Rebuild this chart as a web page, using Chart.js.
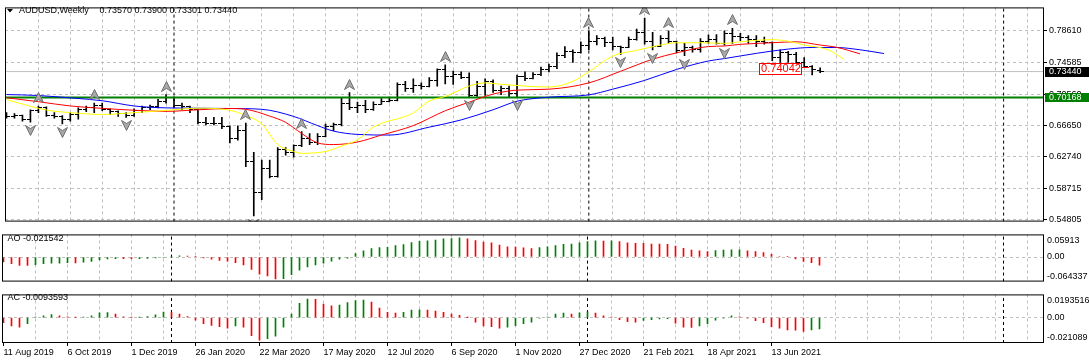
<!DOCTYPE html>
<html>
<head>
<meta charset="utf-8">
<script src="https://cdn.jsdelivr.net/npm/chart.js@4.4.1/dist/chart.umd.min.js"></script>
<style>
  body { margin: 0; background: #fff; width: 1089px; height: 364px; overflow: hidden; position: relative; }
  canvas { position: absolute; left: 0; }
</style>
</head>
<body>
<canvas id="main" width="1089" height="229" style="top:0"></canvas>
<canvas id="ao" width="1089" height="58" style="top:229px"></canvas>
<canvas id="ac" width="1089" height="75" style="top:289px"></canvas>
<script>
// weekly AUDUSD bars, index 0 = 11 Aug 2019
const opens = [0.6802, 0.6778, 0.6790, 0.6743, 0.6850, 0.6886, 0.6790, 0.6778, 0.6743, 0.6802,
  0.6862, 0.6886, 0.6922, 0.6862, 0.6838, 0.6814, 0.6790, 0.6850, 0.6886, 0.6898,
  0.6970, 0.7018, 0.6910, 0.6898, 0.6862, 0.6707, 0.6695, 0.6695, 0.6647, 0.6503,
  0.6599, 0.6204, 0.5822, 0.6121, 0.6025, 0.6360, 0.6324, 0.6408, 0.6503, 0.6444,
  0.6527, 0.6647, 0.6671, 0.6946, 0.6886, 0.6922, 0.6862, 0.6934, 0.6970, 0.6982,
  0.7185, 0.7125, 0.7173, 0.7161, 0.7233, 0.7365, 0.7281, 0.7305, 0.7269, 0.7042,
  0.7161, 0.7221, 0.7101, 0.7125, 0.7066, 0.7281, 0.7257, 0.7305, 0.7365, 0.7412,
  0.7544, 0.7592, 0.7580, 0.7676, 0.7723, 0.7759, 0.7712, 0.7664, 0.7652, 0.7747,
  0.7843, 0.7723, 0.7664, 0.7759, 0.7723, 0.7616, 0.7652, 0.7628, 0.7723, 0.7747,
  0.7700, 0.7819, 0.7783, 0.7771, 0.7747, 0.7723, 0.7712, 0.7520, 0.7580, 0.7556,
  0.7460, 0.7412, 0.73570];
const highs = [0.6826, 0.6814, 0.6795, 0.6862, 0.6910, 0.6898, 0.6826, 0.6790, 0.6826, 0.6886,
  0.6910, 0.6946, 0.6946, 0.6874, 0.6850, 0.6826, 0.6874, 0.6910, 0.6922, 0.6994,
  0.7054, 0.7025, 0.6946, 0.6910, 0.6868, 0.6767, 0.6767, 0.6767, 0.6659, 0.6659,
  0.6695, 0.6324, 0.6228, 0.6228, 0.6384, 0.6384, 0.6420, 0.6587, 0.6563, 0.6563,
  0.6683, 0.6695, 0.7018, 0.7078, 0.6958, 0.6982, 0.6962, 0.7002, 0.7021, 0.7201,
  0.7221, 0.7253, 0.7201, 0.7269, 0.7380, 0.7428, 0.7349, 0.7341, 0.7329, 0.7221,
  0.7253, 0.7241, 0.7161, 0.7161, 0.7301, 0.7341, 0.7332, 0.7400, 0.7440, 0.7580,
  0.7660, 0.7619, 0.7720, 0.7859, 0.7799, 0.7780, 0.7780, 0.7667, 0.7780, 0.7879,
  0.8019, 0.7840, 0.7799, 0.7859, 0.7728, 0.7700, 0.7667, 0.7759, 0.7807, 0.7811,
  0.7859, 0.7891, 0.7828, 0.7799, 0.7799, 0.7780, 0.7720, 0.7619, 0.7600, 0.7588,
  0.7520, 0.7421, 0.73900];
const lows = [0.6755, 0.6755, 0.6719, 0.6707, 0.6826, 0.6778, 0.6755, 0.6683, 0.6719, 0.6743,
  0.6838, 0.6826, 0.6850, 0.6802, 0.6778, 0.6767, 0.6778, 0.6826, 0.6862, 0.6886,
  0.6946, 0.6886, 0.6862, 0.6826, 0.6683, 0.6671, 0.6671, 0.6623, 0.6444, 0.6479,
  0.6145, 0.5522, 0.5726, 0.6001, 0.6010, 0.6288, 0.6264, 0.6396, 0.6420, 0.6420,
  0.6520, 0.6599, 0.6659, 0.6862, 0.6826, 0.6826, 0.6854, 0.6930, 0.6962, 0.6975,
  0.7093, 0.7081, 0.7122, 0.7149, 0.7161, 0.7189, 0.7182, 0.7253, 0.7021, 0.7030,
  0.7042, 0.7081, 0.7054, 0.7021, 0.7021, 0.7229, 0.7250, 0.7293, 0.7341, 0.7380,
  0.7520, 0.7460, 0.7575, 0.7619, 0.7679, 0.7660, 0.7619, 0.7560, 0.7645, 0.7739,
  0.7691, 0.7619, 0.7660, 0.7700, 0.7580, 0.7544, 0.7588, 0.7588, 0.7700, 0.7690,
  0.7676, 0.7700, 0.7732, 0.7700, 0.7660, 0.7691, 0.7481, 0.7460, 0.7460, 0.7440,
  0.7400, 0.7301, 0.73301];
const closes = [0.6778, 0.6790, 0.6743, 0.6850, 0.6886, 0.6790, 0.6778, 0.6743, 0.6802, 0.6862,
  0.6886, 0.6922, 0.6862, 0.6838, 0.6814, 0.6790, 0.6850, 0.6886, 0.6898, 0.6970,
  0.7018, 0.6910, 0.6898, 0.6862, 0.6707, 0.6695, 0.6695, 0.6647, 0.6503, 0.6599,
  0.6204, 0.5822, 0.6121, 0.6025, 0.6360, 0.6324, 0.6408, 0.6503, 0.6444, 0.6527,
  0.6647, 0.6671, 0.6946, 0.6886, 0.6922, 0.6862, 0.6934, 0.6970, 0.6982, 0.7185,
  0.7125, 0.7173, 0.7161, 0.7233, 0.7365, 0.7281, 0.7305, 0.7269, 0.7042, 0.7161,
  0.7221, 0.7101, 0.7125, 0.7066, 0.7281, 0.7257, 0.7305, 0.7365, 0.7412, 0.7544,
  0.7592, 0.7580, 0.7676, 0.7723, 0.7759, 0.7712, 0.7664, 0.7652, 0.7747, 0.7843,
  0.7723, 0.7664, 0.7759, 0.7723, 0.7616, 0.7652, 0.7628, 0.7723, 0.7747, 0.7700,
  0.7819, 0.7783, 0.7771, 0.7747, 0.7723, 0.7712, 0.7520, 0.7580, 0.7556, 0.7460,
  0.7412, 0.7365, 0.73440];

// alligator lines, read at a few bar positions (shifted lines run past the last bar)
const jawIdx = [0, 4, 8, 12, 16, 20, 24, 28, 32, 36, 39, 41, 44, 48, 53, 57, 61, 64, 68, 73, 76, 80, 84, 88, 90, 94, 98, 101, 104, 107, 110];
const jawVal = [0.7054, 0.7042, 0.7012, 0.6976, 0.6910, 0.6886, 0.6882, 0.6878, 0.6868, 0.6778, 0.6662, 0.6593, 0.6551, 0.6543, 0.6643, 0.6734, 0.6862, 0.6970, 0.7021, 0.7050, 0.7122, 0.7233, 0.7371, 0.7478, 0.7508, 0.7574, 0.7628, 0.7648, 0.7648, 0.7619, 0.7572];
const teethIdx = [0, 4, 8, 12, 16, 20, 24, 28, 30, 33, 35, 37, 39, 41, 44, 47, 51, 55, 58, 61, 64, 68, 73, 77, 81, 84, 88, 90, 92, 96, 99, 102, 104, 107];
const teethVal = [0.7014, 0.6964, 0.6910, 0.6880, 0.6856, 0.6842, 0.6862, 0.6878, 0.6868, 0.6782, 0.6703, 0.6563, 0.6444, 0.6423, 0.6455, 0.6543, 0.6662, 0.6850, 0.6958, 0.7060, 0.7110, 0.7122, 0.7201, 0.7349, 0.7500, 0.7580, 0.7660, 0.7667, 0.7688, 0.7708, 0.7720, 0.7679, 0.7652, 0.7568];
const lipsIdx = [0, 2, 4, 6, 8, 12, 16, 20, 24, 28, 30, 32, 34, 36, 37, 40, 42, 44, 46, 51, 53, 55, 58, 60, 61, 65, 68, 71, 73, 76, 79, 82, 84, 87, 90, 92, 96, 98, 100, 103, 105];
const lipsVal = [0.6990, 0.6934, 0.6880, 0.6844, 0.6826, 0.6802, 0.6826, 0.6854, 0.6882, 0.6856, 0.6790, 0.6683, 0.6423, 0.6336, 0.6312, 0.6336, 0.6404, 0.6483, 0.6643, 0.6823, 0.6973, 0.7030, 0.7161, 0.7201, 0.7193, 0.7161, 0.7149, 0.7221, 0.7341, 0.7540, 0.7612, 0.7679, 0.7708, 0.7708, 0.7700, 0.7720, 0.7747, 0.7727, 0.7679, 0.7619, 0.7500];

const upFractals = [4, 11, 20, 30, 37, 43, 55, 73, 80, 83, 91];
const downFractals = [3, 7, 15, 31, 58, 64, 77, 81, 85, 90];

const aoValues = [-0.01277, -0.01767, -0.02193, -0.02214, -0.01980, -0.01767, -0.01639, -0.01597, -0.01490, -0.01533,
  -0.01341, -0.01128, -0.00788, -0.00490, -0.00426, -0.00447, -0.00468, -0.00426, -0.00341, -0.00213,
  -0.00128, 0.00064, 0.00277, 0.00213, 0.00064, -0.00213, -0.00575, -0.00915, -0.01064, -0.01490,
  -0.02065, -0.03257, -0.04470, -0.04960, -0.05726, -0.05662, -0.04619, -0.03470, -0.02618, -0.02065,
  -0.01639, -0.01064, -0.00575, -0.00277, 0.00915, 0.01639, 0.02193, 0.02491, 0.02554, 0.02980,
  0.03257, 0.03768, 0.04108, 0.04236, 0.04406, 0.04747, 0.04811, 0.05002, 0.04747, 0.04321,
  0.03896, 0.03683, 0.03129, 0.02661, 0.02618, 0.02405, 0.02235, 0.02491, 0.02661, 0.02980,
  0.03342, 0.03406, 0.03725, 0.04045, 0.04257, 0.04151, 0.04257, 0.04045, 0.03704, 0.03598,
  0.03555, 0.03406, 0.03363, 0.03321, 0.02874, 0.02278, 0.01809, 0.01597, 0.01448, 0.01682,
  0.01809, 0.01852, 0.01873, 0.01639, 0.01448, 0.01171, 0.00724, 0.00128, 0.00064, -0.00532,
  -0.01128, -0.01511, -0.021542];
const acValues = [-0.00427, -0.00696, -0.00801, -0.00502, 0.00052, 0.00150, 0.00247, 0.00150, 0.00075, 0.00022,
  0.00052, 0.00150, 0.00397, 0.00412, 0.00300, 0.00075, 0.00015, 0.00022, 0.00097, 0.00225,
  0.00472, 0.00449, 0.00300, 0.00097, -0.00202, -0.00502, -0.00652, -0.00749, -0.00876, -0.00696,
  -0.00801, -0.01498, -0.01872, -0.01745, -0.01550, -0.00801, 0.00300, 0.01198, 0.01550, 0.01535,
  0.01123, 0.00974, 0.01048, 0.01251, 0.01423, 0.01460, 0.01296, 0.00801, 0.00449, 0.00374,
  0.00449, 0.00622, 0.00652, 0.00637, 0.00547, 0.00449, 0.00300, 0.00202, 0.00007, -0.00374,
  -0.00696, -0.00749, -0.00876, -0.00801, -0.00674, -0.00502, -0.00374, -0.00052, 0.00052, 0.00300,
  0.00374, 0.00300, 0.00397, 0.00487, 0.00374, 0.00150, 0.00052, -0.00172, -0.00337, -0.00367,
  -0.00225, -0.00165, -0.00112, -0.00090, -0.00449, -0.00801, -0.00809, -0.00696, -0.00509, -0.00202,
  -0.00052, 0.00150, 0.00075, -0.00052, -0.00247, -0.00427, -0.00749, -0.00876, -0.01026, -0.01033,
  -0.01138, -0.01026, -0.0093593];

const dateLabels = ['11 Aug 2019', '6 Oct 2019', '1 Dec 2019', '26 Jan 2020', '22 Mar 2020', '17 May 2020',
  '12 Jul 2020', '6 Sep 2020', '1 Nov 2020', '27 Dec 2020', '21 Feb 2021', '18 Apr 2021', '13 Jun 2021'];
const priceTicks = [0.54805, 0.58715, 0.62740, 0.66650, 0.70560, 0.74585, 0.78610];
const yearStarts = [21, 73, 125];
const bidPrice = 0.73440;
const levelPrice = 0.70168;
const notePrice = 0.74042;
const aoRange = [-0.064337, 0.05913];
const aoTickLabels = ['-0.064337', '0.00', '0.05913'];
const acRange = [-0.021089, 0.0193516];
const acTickLabels = ['-0.021089', '0.00', '0.0193516'];

const GRID = '#c0c0c0';
const UP = '#008000';
const DOWN = '#ff0000';
const X_MIN = -0.1875, X_MAX = 129.9375;
const Y_MIN = 0.54506, Y_MAX = 0.81541;
const NONE = 'rgba(0,0,0,0)';

Chart.defaults.font.family = '"Liberation Sans", Arial, sans-serif';
Chart.defaults.font.size = 9;
Chart.defaults.color = '#000';
Chart.defaults.animation = false;
Chart.defaults.plugins.legend.display = false;
Chart.defaults.plugins.tooltip.enabled = false;

function tickImage(left) {
  const c = document.createElement('canvas');
  c.width = 7; c.height = 1;
  const g = c.getContext('2d');
  g.fillStyle = '#000';
  g.fillRect(left ? 0 : 4, 0, 3, 1);
  return c;
}

function arrowImage(up) {
  const c = document.createElement('canvas');
  c.width = 11; c.height = 28;
  const g = c.getContext('2d');
  g.translate(0, up ? 0 : 17);
  g.beginPath();
  if (up) { g.moveTo(5.5, 0.5); g.lineTo(10.5, 10.5); g.lineTo(5.5, 7.5); g.lineTo(0.5, 10.5); }
  else { g.moveTo(5.5, 10.5); g.lineTo(10.5, 0.5); g.lineTo(5.5, 3.5); g.lineTo(0.5, 0.5); }
  g.closePath();
  g.fillStyle = '#a8a8a8';
  g.fill();
  g.strokeStyle = '#707070';
  g.lineWidth = 1;
  g.stroke();
  return c;
}

function sepPoints(lo, hi) {
  const pts = [];
  yearStarts.forEach(i => pts.push({ x: i, y: lo }, { x: i, y: hi }, { x: i, y: null }));
  return pts;
}

function pairs(xs, ys) {
  return xs.map((x, i) => ({ x: x, y: ys[i] }));
}

function labelled(v) {
  return v % 8 === 0 && v / 8 < dateLabels.length;
}

function xAxis(withLabels, height) {
  return {
    type: 'linear', min: X_MIN, max: X_MAX, offset: false,
    afterBuildTicks: s => {
      s.ticks = [];
      for (let v = 0; v <= 128; v += 4) s.ticks.push({ value: v });
    },
    afterFit: s => { s.height = height; },
    grid: {
      offset: false,
      color: c => (c.tick && c.tick.value === 0) ? NONE : GRID,
      drawTicks: withLabels,
      tickLength: 3,
      tickColor: c => (c.tick && labelled(c.tick.value)) ? '#000' : NONE,
      tickBorderDash: []
    },
    border: { display: false, dash: [3, 3] },
    ticks: {
      display: withLabels, autoSkip: false, maxRotation: 0, minRotation: 0,
      align: 'start', padding: 1,
      callback: v => labelled(v) ? dateLabels[v / 8] : ''
    }
  };
}

// places the top and bottom labels just inside the panel, like the terminal does
function oscAxis(range, labels, h, topOff, botOff) {
  const span = range[1] - range[0];
  const spots = [range[0] + botOff / h * span, 0, range[1] - topOff / h * span];
  return {
    position: 'right', min: range[0], max: range[1],
    afterBuildTicks: s => { s.ticks = spots.map(v => ({ value: v })); },
    afterFit: s => { s.width = 46; },
    grid: {
      color: c => (c.tick && c.tick.value === 0) ? GRID : NONE,
      tickLength: 4, tickColor: NONE
    },
    border: { display: false, dash: [3, 3] },
    ticks: { autoSkip: false, padding: 0, callback: (v, i) => labels[i] }
  };
}

const frame = {
  id: 'frame',
  beforeDatasetsDraw(chart) { chart.ctx.imageSmoothingEnabled = false; },
  afterDraw(chart, args, opts) {
    const { ctx, chartArea: a } = chart;
    ctx.save();
    ctx.strokeStyle = '#000';
    ctx.lineWidth = 1;
    ctx.strokeRect(a.left + 0.5, a.top + 0.5, a.right - a.left, a.bottom - a.top - 1);
    if (opts.text) {
      ctx.fillStyle = '#000';
      ctx.font = '9px "Liberation Sans", Arial, sans-serif';
      ctx.textBaseline = 'middle';
      ctx.fillText(opts.text, 7.5, opts.y);
    }
    ctx.restore();
  }
};

const overlay = {
  id: 'overlay',
  afterDraw(chart) {
    const { ctx, scales: { x, y } } = chart;
    ctx.save();
    ctx.font = '9px "Liberation Sans", Arial, sans-serif';
    ctx.textBaseline = 'middle';
    // title
    ctx.fillStyle = '#000';
    ctx.beginPath();
    ctx.moveTo(7, 9); ctx.lineTo(13, 9); ctx.lineTo(10, 12.5); ctx.closePath();
    ctx.fill();
    ctx.fillText('AUDUSD,Weekly', 19, 11);
    ctx.fillText('0.73570 0.73900 0.73301 0.73440', 99.5, 11);
    // price note
    const ny = Math.round(y.getPixelForValue(notePrice));
    const nr = Math.round(x.getPixelForValue(99.75));
    ctx.fillStyle = '#fff';
    ctx.fillRect(nr - 42, ny - 4, 42, 11);
    ctx.strokeStyle = DOWN;
    ctx.strokeRect(nr - 42.5, ny - 3.5, 42, 11);
    ctx.beginPath(); ctx.moveTo(nr, ny + 0.5); ctx.lineTo(nr + 7, ny + 0.5); ctx.stroke();
    ctx.fillStyle = DOWN;
    ctx.font = '11px "Liberation Sans", Arial, sans-serif';
    ctx.textAlign = 'center';
    ctx.fillText(notePrice.toFixed(5), nr - 21, ny + 2);
    // axis price boxes
    ctx.textAlign = 'left';
    ctx.font = '9px "Liberation Sans", Arial, sans-serif';
    const by = Math.round(y.getPixelForValue(bidPrice));
    ctx.fillStyle = '#000';
    ctx.fillRect(1045, by - 5, 44, 10);
    ctx.fillStyle = '#fff';
    ctx.fillText(bidPrice.toFixed(5), 1049, by);
    const gy = Math.round(y.getPixelForValue(levelPrice)) - 1;
    ctx.fillStyle = UP;
    ctx.fillRect(1045, gy - 4, 44, 9);
    ctx.fillStyle = '#fff';
    ctx.fillText(levelPrice.toFixed(5), 1049, gy + 0.5);
    ctx.restore();
  }
};

const idx = closes.map((_, i) => i);

new Chart(document.getElementById('main'), {
  type: 'bar',
  data: {
    datasets: [
      { type: 'line', data: sepPoints(Y_MIN, Y_MAX), borderColor: '#000', borderWidth: 1, borderDash: [3, 3], pointRadius: 0, order: 10 },
      { type: 'line', data: [{ x: X_MIN, y: bidPrice }, { x: X_MAX, y: bidPrice }], borderColor: GRID, borderWidth: 1, pointRadius: 0, order: 9 },
      { type: 'bar', data: idx.map(i => ({ x: i, y: [lows[i], highs[i]] })), backgroundColor: '#000', barThickness: 1, order: 6 },
      { type: 'scatter', data: idx.map(i => ({ x: i, y: opens[i] })), pointStyle: tickImage(true), pointRadius: 1, order: 6 },
      { type: 'scatter', data: idx.map(i => ({ x: i, y: closes[i] })), pointStyle: tickImage(false), pointRadius: 1, order: 6 },
      { type: 'line', data: [{ x: X_MIN, y: levelPrice }, { x: X_MAX, y: levelPrice }], borderColor: UP, borderWidth: 2, pointRadius: 0, order: 5 },
      { type: 'line', data: pairs(jawIdx, jawVal), borderColor: '#0000ff', borderWidth: 1, pointRadius: 0, cubicInterpolationMode: 'monotone', order: 3 },
      { type: 'line', data: pairs(teethIdx, teethVal), borderColor: '#ff0000', borderWidth: 1, pointRadius: 0, cubicInterpolationMode: 'monotone', order: 2 },
      { type: 'line', data: pairs(lipsIdx, lipsVal), borderColor: '#ffff00', borderWidth: 1, pointRadius: 0, cubicInterpolationMode: 'monotone', order: 1 },
      { type: 'scatter', data: upFractals.map(i => ({ x: i, y: highs[i] })), pointStyle: arrowImage(true), pointRadius: 3, order: 0 },
      { type: 'scatter', data: downFractals.map(i => ({ x: i, y: lows[i] })), pointStyle: arrowImage(false), pointRadius: 3, order: 0 }
    ]
  },
  options: {
    responsive: false,
    layout: { padding: { left: 2, top: 2, right: 0, bottom: 1 } },
    scales: {
      x: xAxis(false, 0),
      y: {
        position: 'right', min: Y_MIN, max: Y_MAX,
        afterBuildTicks: s => { s.ticks = priceTicks.map(v => ({ value: v })); },
        afterFit: s => { s.width = 46; },
        grid: { color: GRID, tickLength: 4, tickColor: '#000', tickBorderDash: [] },
        border: { display: false, dash: [3, 3] },
        ticks: { autoSkip: false, padding: 2, callback: v => v.toFixed(5) }
      }
    },
    plugins: { frame: {} }
  },
  plugins: [frame, overlay]
});

function oscChart(id, values, range, labels, h, topOff, botOff, xHeight, withDates, text, textY) {
  new Chart(document.getElementById(id), {
    type: 'bar',
    data: {
      datasets: [
        { type: 'line', data: sepPoints(range[0], range[1]), borderColor: '#000', borderWidth: 1, borderDash: [3, 3], pointRadius: 0, order: 10 },
        {
          type: 'bar',
          data: values.map((v, i) => ({ x: i, y: v })),
          backgroundColor: values.map((v, i) => (i > 0 && v > values[i - 1]) ? UP : DOWN),
          barThickness: 1, order: 1
        }
      ]
    },
    options: {
      responsive: false,
      layout: { padding: { left: 2, top: 0, right: 0, bottom: 0 } },
      scales: {
        x: xAxis(withDates, xHeight),
        y: oscAxis(range, labels, h, topOff, botOff)
      },
      plugins: { frame: { text: text, y: textY } }
    },
    plugins: [frame]
  });
}

oscChart('ao', aoValues, aoRange, aoTickLabels, 58, 7, 6.7, 0, false, 'AO -0.021542', 9.7);
oscChart('ac', acValues, acRange, acTickLabels, 54, 7.3, 6.3, 21, true, 'AC -0.0093593', 9);
</script>
</body>
</html>
